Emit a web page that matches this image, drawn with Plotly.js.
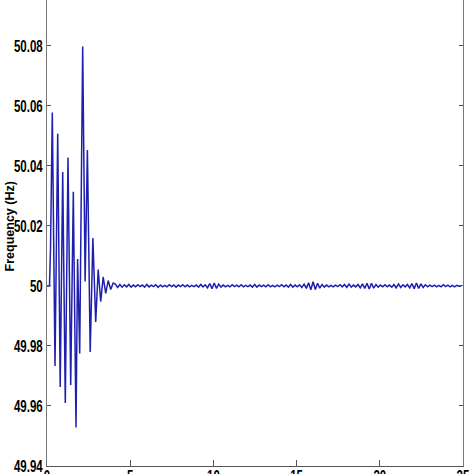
<!DOCTYPE html>
<html>
<head>
<meta charset="utf-8">
<script src="https://cdn.plot.ly/plotly-3.0.1.min.js"></script>
<style>
  html, body { margin: 0; padding: 0; background: #fff; }
  #myDiv { width: 474px; height: 474px; }
</style>
</head>
<body>
<div id="myDiv"></div>
<script>
// transient after the disturbance: time (s) and frequency (Hz) at each swing
var tTransient = [0.000, 0.150, 0.210, 0.319, 0.481, 0.643, 0.793, 0.944, 1.100, 1.262,
  1.424, 1.581, 1.743, 1.839, 1.965, 2.145, 2.290, 2.428, 2.596, 2.758,
  2.927, 3.077, 3.227, 3.377, 3.528, 3.678, 3.828, 3.978];
var fTransient = [50.0000, 50.0000, 50.0120, 50.0578, 49.9733, 50.0507, 49.9663, 50.0380, 49.9610, 50.0428,
  49.9670, 50.0314, 49.9528, 50.0090, 49.9775, 50.0798, 50.0015, 50.0453, 49.9780, 50.0160,
  49.9880, 50.0055, 49.9948, 50.0030, 49.9975, 50.0018, 49.9988, 50.0010];

// steady-state ripple, deviation from 50 Hz in mHz, sampled every rippleStep s from rippleStart
var rippleStart = 4.11;
var rippleStep = 0.135;
var rippleMHz = [
  0.6, -0.5, 0.5, -0.4, 0.4, -0.3, 0.5, -0.4, 0.3, -0.3,
  0.4, -0.2, 0.3, -0.4, 0.5, -0.3, 0.3, -0.2, 0.4, -0.5,
  0.3, -0.3, 0.2, -0.3, 0.4, -0.2, 0.3, -0.4, 0.3, -0.2,
  0.4, -0.3, 0.3, -0.3, 0.2, -0.2, 0.3, -0.4, 0.5, -0.3,
  0.4, -0.6, 0.8, -0.9, 1.0, -0.8, 0.6, -0.4, 0.3, -0.3,
  0.2, -0.3, 0.4, -0.2, 0.3, -0.3, 0.4, -0.3, 0.2, -0.2,
  0.3, -0.4, 0.5, -0.4, 0.3, -0.2, 0.3, -0.3, 0.4, -0.3,
  0.2, -0.3, 0.3, -0.2, 0.4, -0.3, 0.3, -0.4, 0.5, -0.4,
  0.3, -0.3, 0.4, -0.5, 0.6, -0.8, 1.1, -1.3, 1.4, -1.2,
  0.9, -0.7, 0.5, -0.4, 0.3, -0.3, 0.2, -0.3, 0.3, -0.2,
  0.4, -0.3, 0.5, -0.5, 0.6, -0.4, 0.3, -0.3, 0.5, -0.6,
  0.7, -0.8, 0.9, -1.0, 0.9, -0.7, 0.5, -0.4, 0.3, -0.3,
  0.4, -0.3, 0.3, -0.4, 0.5, -0.6, 0.7, -0.5, 0.4, -0.3,
  0.5, -0.6, 0.8, -0.9, 1.0, -0.8, 0.7, -0.5, 0.4, -0.3,
  0.3, -0.2, 0.3, -0.3, 0.2, -0.3, 0.4, -0.2, 0.3, -0.3,
  0.2, -0.3, 0.2, -0.1, 0.0];

var xTicks = [0, 5, 10, 15, 20, 25];
var yTicks = [49.94, 49.96, 49.98, 50, 50.02, 50.04, 50.06, 50.08];
var yTickText = ['49.94', '49.96', '49.98', '50', '50.02', '50.04', '50.06', '50.08'];

var t = tTransient.slice();
var f = fTransient.slice();
for (var i = 0; i < rippleMHz.length; i++) {
  t.push(rippleStart + i * rippleStep);
  f.push(50 + rippleMHz[i] / 1000);
}

var trace1 = {
  x: t,
  y: f,
  type: 'scatter',
  mode: 'lines',
  line: { color: 'rgb(30,30,175)', width: 1.5 },
  hoverinfo: 'skip'
};

var tickFont = {
  family: 'Liberation Sans, Arial, sans-serif',
  size: 16,
  color: '#000',
  weight: 'bold'
};

var layout = {
  width: 474,
  height: 474,
  margin: { l: 47, r: 11, t: 0, b: 8 },
  paper_bgcolor: '#fff',
  plot_bgcolor: '#fff',
  showlegend: false,
  xaxis: {
    range: [0, 25],
    tickmode: 'array',
    tickvals: xTicks,
    ticks: 'inside',
    ticklen: 6,
    tickcolor: '#555',
    showline: true,
    linecolor: '#555',
    linewidth: 1,
    showgrid: false,
    zeroline: false,
    ticklabeloverflow: 'allow',
    ticklabelstandoff: -4,
    tickfont: tickFont
  },
  yaxis: {
    range: [49.94, 50.0953],
    tickmode: 'array',
    tickvals: yTicks,
    ticktext: yTickText,
    ticks: 'inside',
    ticklen: 4,
    tickcolor: '#555',
    showline: true,
    mirror: 'ticks',
    linecolor: '#777',
    linewidth: 1,
    showgrid: false,
    zeroline: false,
    ticklabeloverflow: 'allow',
    tickfont: tickFont
  },
  // y title as an annotation so it sits left of the narrowed tick labels
  annotations: [{
    text: 'Frequency (Hz)',
    textangle: -90,
    xref: 'paper', yref: 'paper',
    x: -0.088, y: 0.515,
    xanchor: 'center', yanchor: 'middle',
    showarrow: false,
    font: { family: 'Liberation Sans, Arial, sans-serif', size: 12.5, color: '#000', weight: 'bold' }
  }]
};

Plotly.newPlot('myDiv', [trace1], layout, { staticPlot: true }).then(function (gd) {
  // squeeze tick labels horizontally, like the condensed font of the original
  gd.querySelectorAll('.xtick text, .ytick text').forEach(function (el) {
    var x = parseFloat(el.getAttribute('x')) || 0;
    var tr = el.getAttribute('transform') || '';
    el.setAttribute('transform', tr + ' translate(' + x + ',0) scale(0.72,1) translate(' + (-x) + ',0)');
  });
});
</script>
</body>
</html>
